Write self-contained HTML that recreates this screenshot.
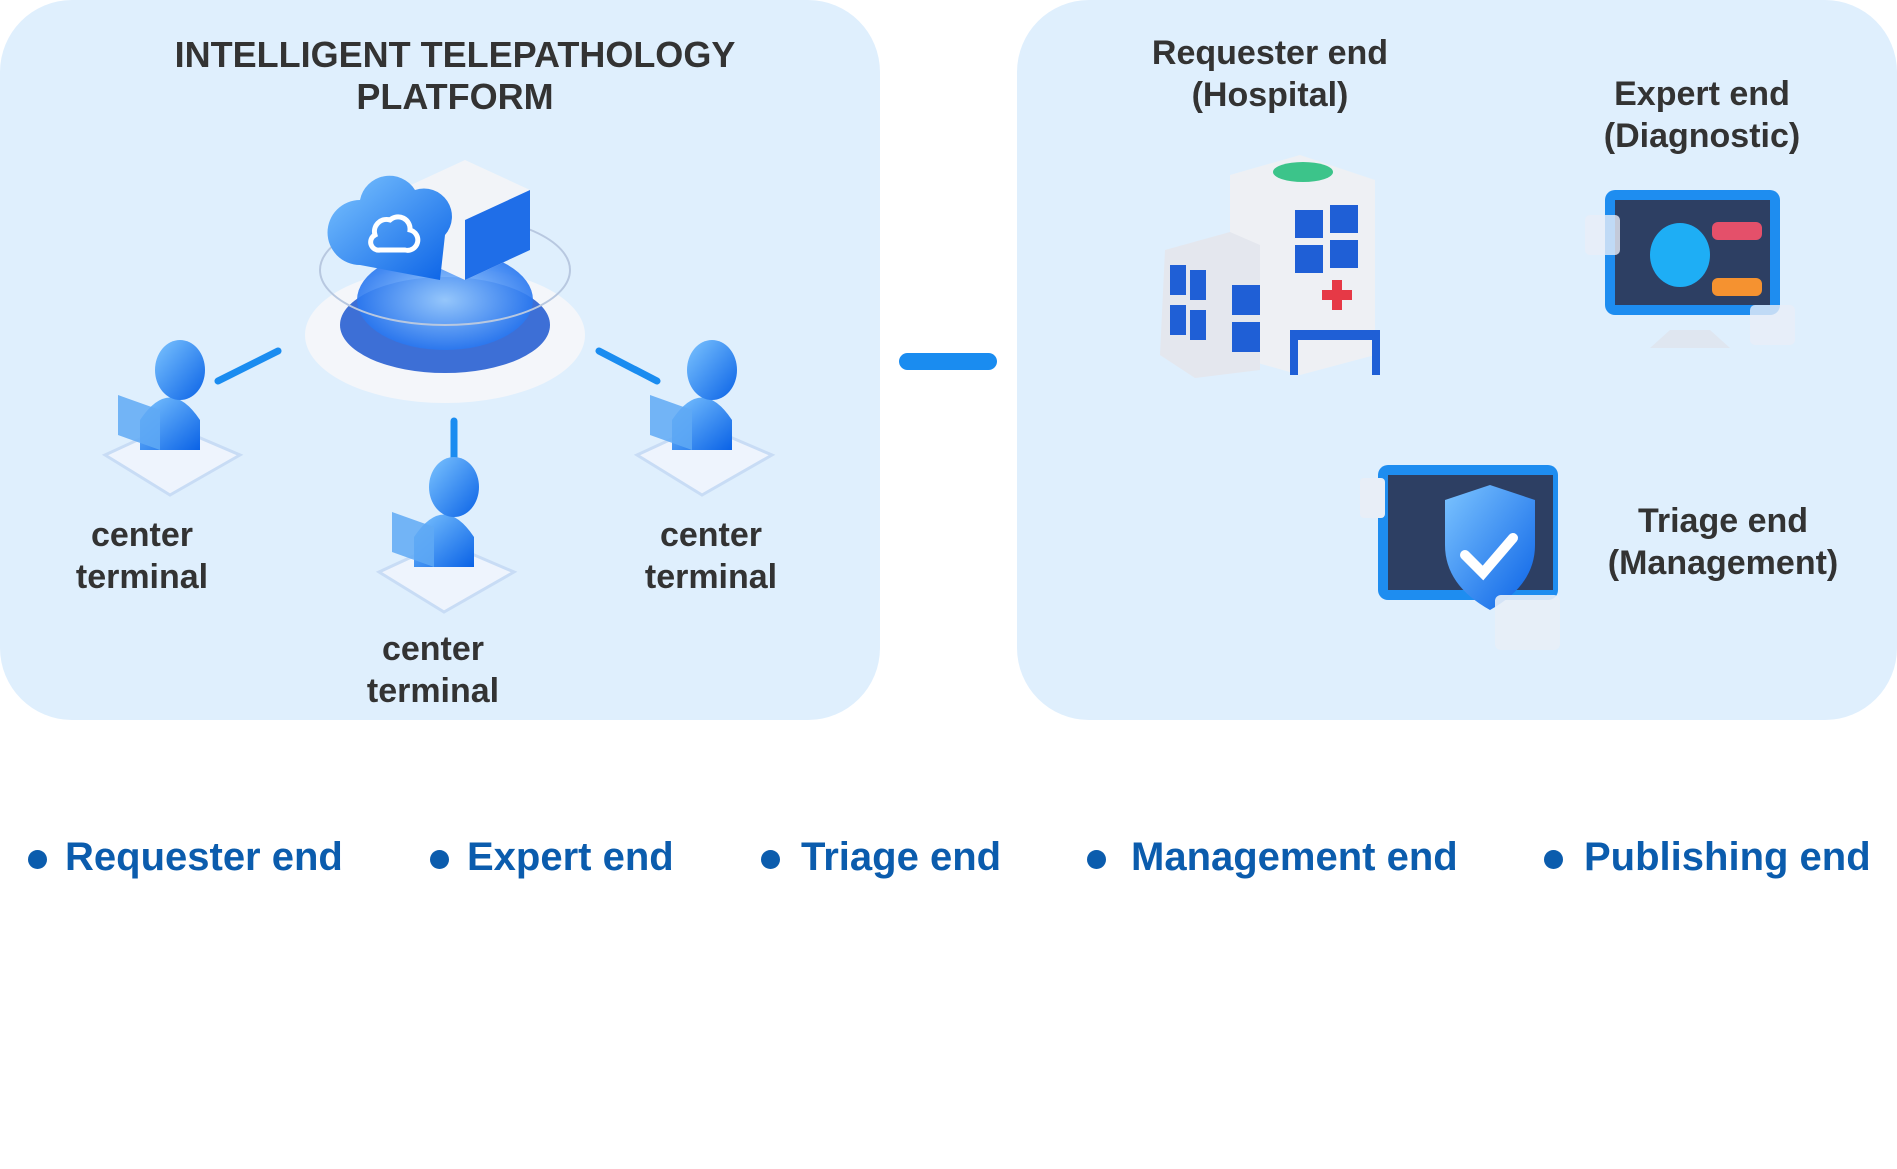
<!DOCTYPE html>
<html><head><meta charset="utf-8"><style>
body{margin:0;width:1897px;height:1169px;background:#fff;position:relative;overflow:hidden;font-family:"Liberation Sans",Arial,sans-serif;}
.panel{position:absolute;top:0;height:720px;background:#dfeffd;border-radius:72px;}
.t{position:absolute;font-weight:bold;color:#333;text-align:center;line-height:42px;font-size:34px;transform:translateX(-50%);white-space:nowrap;}
.leg{position:absolute;top:835px;font-size:40px;font-weight:bold;color:#0b5cad;white-space:nowrap;}
.dot{position:absolute;top:850px;width:19px;height:19px;border-radius:50%;background:#0b5cad;}
svg{position:absolute;left:0;top:0;}
</style></head><body>
<div class="panel" style="left:0;width:880px"></div>
<div class="panel" style="left:1017px;width:880px"></div>
<div style="position:absolute;left:899px;top:353px;width:98px;height:17px;border-radius:9px;background:#1a8cf0"></div>

<div class="t" style="left:455px;top:34px;font-size:36px;line-height:42px">INTELLIGENT TELEPATHOLOGY<br>PLATFORM</div>
<div class="t" style="left:142px;top:514px">center<br>terminal</div>
<div class="t" style="left:433px;top:628px">center<br>terminal</div>
<div class="t" style="left:711px;top:514px">center<br>terminal</div>
<div class="t" style="left:1270px;top:32px">Requester end<br>(Hospital)</div>
<div class="t" style="left:1702px;top:73px">Expert end<br>(Diagnostic)</div>
<div class="t" style="left:1723px;top:500px">Triage end<br>(Management)</div>

<svg width="1897" height="1169">
<defs>
<linearGradient id="b" x1="0" y1="0" x2="1" y2="1"><stop offset="0" stop-color="#7cc4ff"/><stop offset="1" stop-color="#0a62e6"/></linearGradient>
<radialGradient id="g"><stop offset="0" stop-color="#9fd0ff"/><stop offset="1" stop-color="#2a78f0"/></radialGradient>
</defs>
<g stroke="#1a8cf0" stroke-width="7" stroke-linecap="round">
<line x1="218" y1="381" x2="278" y2="351"/><line x1="454" y1="421" x2="454" y2="460"/><line x1="599" y1="351" x2="657" y2="381"/>
</g>
<ellipse cx="445" cy="335" rx="140" ry="68" fill="#f4f6fa"/>
<ellipse cx="445" cy="325" rx="105" ry="48" fill="#3d6fd6"/>
<ellipse cx="445" cy="300" rx="88" ry="50" fill="url(#g)" opacity=".9"/>
<ellipse cx="445" cy="270" rx="125" ry="55" fill="none" stroke="#b8c8e0" stroke-width="2"/>
<path d="M400 190 L465 160 L530 190 L530 250 L465 280 L400 250Z" fill="#f2f4f8"/>
<path d="M465 220 L530 190 L530 250 L465 280Z" fill="#1f6ee8"/>
<path d="M360 200 a30 30 0 0 1 55 -10 a28 28 0 0 1 30 45 l-5 45 l-80 -15 a25 25 0 0 1 0 -65z" fill="url(#b)"/>
<path d="M375 235 a12 12 0 0 1 15 -15 a12 12 0 0 1 20 10 a10 10 0 0 1 -5 20 h-25 a8 8 0 0 1 -5 -15z" fill="none" stroke="#fff" stroke-width="5"/>
<g id="p">
<path d="M105 455 L170 425 L240 455 L170 495Z" fill="#eef4fd" stroke="#c8dcf5" stroke-width="3"/>
<path d="M140 420 q30 -45 60 0 v30 h-60z" fill="url(#b)"/>
<ellipse cx="180" cy="370" rx="25" ry="30" fill="url(#b)"/>
<path d="M118 395 L160 410 L160 450 L118 435Z" fill="#5fa9f5" opacity=".85"/>
</g>
<use href="#p" x="274" y="117"/>
<use href="#p" x="532" y="0"/>
<path d="M1230 175 L1300 155 L1375 180 L1375 355 L1300 375 L1230 355Z" fill="#eef0f4"/>
<path d="M1165 250 L1230 232 L1260 245 L1260 370 L1195 378 L1160 355Z" fill="#e4e7ee"/>
<ellipse cx="1303" cy="172" rx="30" ry="10" fill="#3cc48a"/>
<g fill="#1f5fd6"><rect x="1295" y="210" width="28" height="28"/><rect x="1330" y="205" width="28" height="28"/><rect x="1295" y="245" width="28" height="28"/><rect x="1330" y="240" width="28" height="28"/><rect x="1232" y="285" width="28" height="30"/><rect x="1232" y="322" width="28" height="30"/><rect x="1170" y="265" width="16" height="30"/><rect x="1190" y="270" width="16" height="30"/><rect x="1170" y="305" width="16" height="30"/><rect x="1190" y="310" width="16" height="30"/></g>
<path d="M1290 330 h90 v45 h-8 v-35 h-74 v35 h-8z" fill="#1f5fd6"/>
<path d="M1322 290 h10 v-10 h10 v10 h10 v10 h-10 v10 h-10 v-10 h-10z" fill="#e63946"/>
<rect x="1605" y="190" width="175" height="125" rx="10" fill="#1e8df0"/>
<rect x="1615" y="200" width="155" height="105" fill="#2d3f63"/>
<ellipse cx="1680" cy="255" rx="30" ry="32" fill="#1eaef5"/>
<rect x="1712" y="222" width="50" height="18" rx="6" fill="#e4506a"/><rect x="1712" y="278" width="50" height="18" rx="6" fill="#f59230"/>
<path d="M1670 330 h40 l20 18 h-80z" fill="#dfe6f0"/>
<rect x="1585" y="215" width="35" height="40" rx="5" fill="#e8eef7" opacity=".8"/>
<rect x="1750" y="305" width="45" height="40" rx="5" fill="#e8eef7" opacity=".8"/>
<rect x="1378" y="465" width="180" height="135" rx="10" fill="#1e8df0"/>
<rect x="1388" y="475" width="165" height="115" fill="#2d3f63"/>
<path d="M1445 500 l45 -15 l45 15 v45 q0 40 -45 65 q-45 -25 -45 -65z" fill="url(#b)"/>
<path d="M1465 555 l18 18 l30 -35" fill="none" stroke="#fff" stroke-width="10" stroke-linecap="round"/>
<rect x="1495" y="595" width="65" height="55" rx="6" fill="#e8eef7" opacity=".9"/>
<rect x="1360" y="478" width="25" height="40" rx="4" fill="#e8eef7"/>
</svg>

<div class="dot" style="left:28px"></div><div class="leg" style="left:65px">Requester end</div>
<div class="dot" style="left:430px"></div><div class="leg" style="left:467px">Expert end</div>
<div class="dot" style="left:761px"></div><div class="leg" style="left:801px">Triage end</div>
<div class="dot" style="left:1087px"></div><div class="leg" style="left:1131px">Management end</div>
<div class="dot" style="left:1544px"></div><div class="leg" style="left:1584px">Publishing end</div>
</body></html>
